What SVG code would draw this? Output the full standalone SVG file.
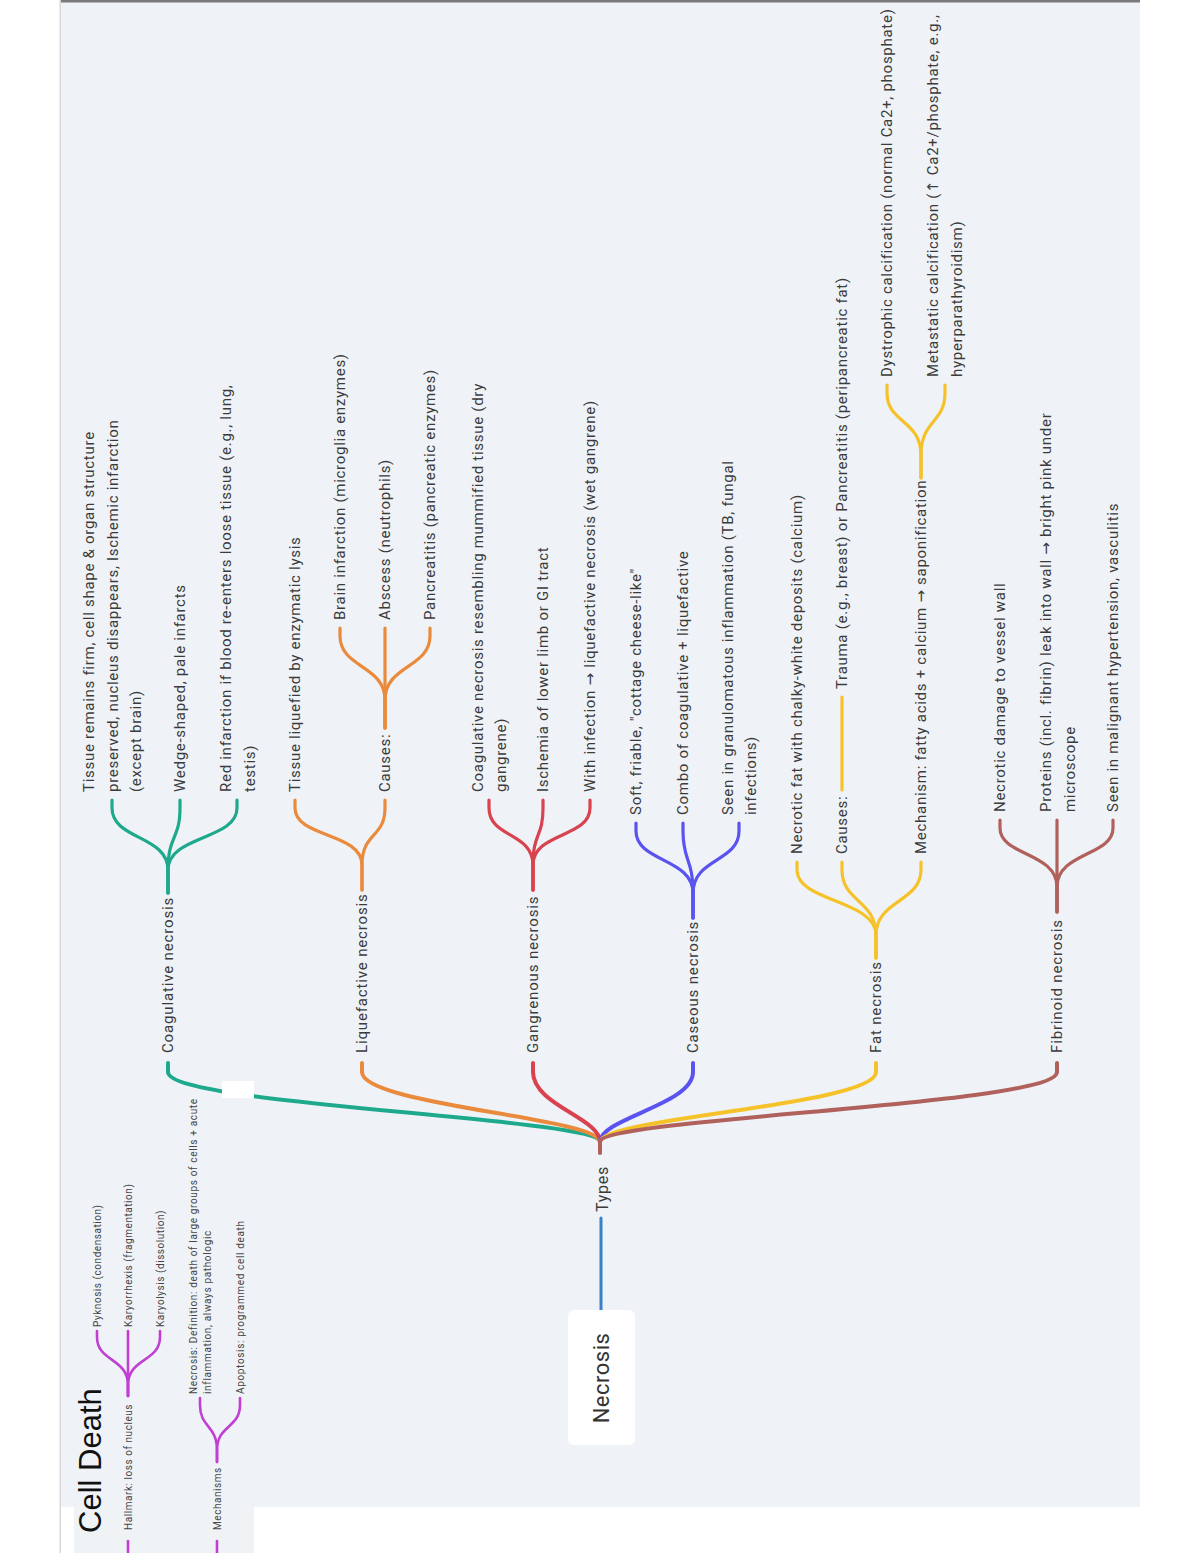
<svg xmlns="http://www.w3.org/2000/svg" width="1200" height="1553" viewBox="0 0 1200 1553">
<style>
.t{font-family:Roboto,"Noto Sans","DejaVu Sans",sans-serif;font-size:15px;fill:#3b3b3b;dominant-baseline:central;letter-spacing:0.72px}
.type{letter-spacing:0.85px}
.s{font-size:10px;fill:#444;letter-spacing:0.55px}
.c{fill:none;stroke-linecap:round;stroke-linejoin:round}
.teal{stroke:#1fa98c}.orange{stroke:#ea8a3c}.red{stroke:#d8434f}.violet{stroke:#5b53f0}.yellow{stroke:#f6c22a}.brown{stroke:#b0615c}.purple{stroke:#c13fd3}
.w4{stroke-width:4}.w3{stroke-width:3.2}.w2{stroke-width:2.6}
</style>
<rect x="0" y="0" width="1200" height="1553" fill="#ffffff"/>
<rect x="60" y="0" width="1080" height="1507" fill="#eff3f7"/>
<rect x="74" y="1507" width="180" height="46" fill="#f0f3f6"/>
<rect x="60" y="0" width="1080" height="2.5" fill="#7a7a7a"/>
<rect x="59.5" y="0" width="1.5" height="1553" fill="#d6d8da"/>

<g id="connectors">
  <path class="c" d="M601,1218 L601,1310" stroke="#3a80c8" stroke-width="3"/>
  <path class="c teal w4" d="M600,1142 C600,1118 168,1105 168,1072 L168,1063"/>
  <path class="c orange w4" d="M600,1142 C600,1118 362,1105 362,1072 L362,1063"/>
  <path class="c red w4" d="M600,1142 C600,1118 533,1105 533,1072 L533,1063"/>
  <path class="c violet w4" d="M600,1142 C600,1118 693,1105 693,1072 L693,1063"/>
  <path class="c yellow w4" d="M600,1142 C600,1118 876,1105 876,1072 L876,1063"/>
  <path class="c brown w4" d="M600,1142 C600,1118 1057,1105 1057,1072 L1057,1063"/>
  <path class="c brown w4" d="M600,1140 L600,1153"/>
  <rect x="222" y="1081" width="32" height="17" fill="#ffffff"/>

  <path class="c teal w3" d="M168,893 L168,870 C168,835 112,840 112,808 L112,800"/>
  <path class="c teal w3" d="M168,893 L168,870 C168,835 180,840 180,808 L180,800"/>
  <path class="c teal w3" d="M168,893 L168,870 C168,835 237,840 237,808 L237,800"/>
  <path class="c orange w3" d="M362,890 L362,865 C362,832 295,838 295,808 L295,800"/>
  <path class="c orange w3" d="M362,890 L362,865 C362,832 385,838 385,808 L385,800"/>
  <path class="c orange w3" d="M385,728 L385,700 C385,665 340,668 340,636 L340,628"/>
  <path class="c orange w3" d="M385,728 L385,628"/>
  <path class="c orange w3" d="M385,728 L385,700 C385,665 430,668 430,636 L430,628"/>
  <path class="c red w3" d="M533,890 L533,865 C533,832 489,838 489,808 L489,800"/>
  <path class="c red w3" d="M533,890 L533,865 C533,832 543,838 543,808 L543,800"/>
  <path class="c red w3" d="M533,890 L533,865 C533,832 590,838 590,808 L590,800"/>
  <path class="c violet w3" d="M693,918 L693,893 C693,858 636,862 636,831 L636,823"/>
  <path class="c violet w3" d="M693,918 L693,893 C693,858 683,862 683,831 L683,823"/>
  <path class="c violet w3" d="M693,918 L693,893 C693,858 739,862 739,831 L739,823"/>
  <path class="c yellow w3" d="M876,958 L876,935 C876,900 797,902 797,870 L797,862"/>
  <path class="c yellow w3" d="M876,958 L876,935 C876,900 842,902 842,870 L842,862"/>
  <path class="c yellow w3" d="M876,958 L876,935 C876,900 921,902 921,870 L921,862"/>
  <path class="c yellow w3" d="M842,790 L842,697"/>
  <path class="c yellow w3" d="M921,478 L921,455 C921,420 887,423 887,393 L887,385"/>
  <path class="c yellow w3" d="M921,478 L921,455 C921,420 945,423 945,393 L945,385"/>
  <path class="c brown w3" d="M1057,912 L1057,887 C1057,852 1000,856 1000,828 L1000,820"/>
  <path class="c brown w3" d="M1057,912 L1057,820"/>
  <path class="c brown w3" d="M1057,912 L1057,887 C1057,852 1113,856 1113,828 L1113,820"/>
  <path class="c purple w2" d="M128,1541 L128,1553"/>
  <path class="c purple w2" d="M217,1541 L217,1553"/>
  <path class="c purple w2" d="M128,1396 L128,1385 C128,1358 97,1362 97,1337 L97,1331"/>
  <path class="c purple w2" d="M128,1396 L128,1331"/>
  <path class="c purple w2" d="M128,1396 L128,1385 C128,1358 160,1362 160,1337 L160,1331"/>
  <path class="c purple w2" d="M217,1462 L217,1450 C217,1425 200,1428 200,1405 L200,1398"/>
  <path class="c purple w2" d="M217,1462 L217,1450 C217,1425 240,1428 240,1405 L240,1398"/>
</g>

<g id="n-root">
  <rect x="568" y="1310" width="67" height="135" rx="6" fill="#ffffff"/>
  <text class="t" transform="translate(601,1378) rotate(-90)" text-anchor="middle" style="font-size:22px;fill:#333;letter-spacing:0.5px">Necrosis</text>
</g>
<g id="n-types"><text class="t" transform="translate(602,1212) rotate(-90)" style="font-size:16px">Types</text></g>

<g id="n-coagulative"><text class="t type" transform="translate(168,1053) rotate(-90)">Coagulative necrosis</text></g>
<g id="n-coag-1"><text class="t" transform="translate(89,792) rotate(-90)"><tspan x="0" y="0">Tissue remains firm, cell shape &amp; organ structure</tspan><tspan x="0" y="23.5">preserved, nucleus disappears, Ischemic infarction</tspan><tspan x="0" y="47">(except brain)</tspan></text></g>
<g id="n-coag-2"><text class="t" transform="translate(180,792) rotate(-90)">Wedge-shaped, pale infarcts</text></g>
<g id="n-coag-3"><text class="t" transform="translate(226,792) rotate(-90)"><tspan x="0" y="0">Red infarction if blood re-enters loose tissue (e.g., lung,</tspan><tspan x="0" y="23.5">testis)</tspan></text></g>

<g id="n-liquefactive"><text class="t type" transform="translate(362,1053) rotate(-90)">Liquefactive necrosis</text></g>
<g id="n-liq-1"><text class="t" transform="translate(295,792) rotate(-90)">Tissue liquefied by enzymatic lysis</text></g>
<g id="n-liq-causes"><text class="t" transform="translate(385,792) rotate(-90)">Causes:</text></g>
<g id="n-liq-c1"><text class="t" transform="translate(340,620) rotate(-90)">Brain infarction (microglia enzymes)</text></g>
<g id="n-liq-c2"><text class="t" transform="translate(385,620) rotate(-90)">Abscess (neutrophils)</text></g>
<g id="n-liq-c3"><text class="t" transform="translate(430,620) rotate(-90)">Pancreatitis (pancreatic enzymes)</text></g>

<g id="n-gangrenous"><text class="t type" transform="translate(533,1053) rotate(-90)">Gangrenous necrosis</text></g>
<g id="n-gan-1"><text class="t" transform="translate(478,792) rotate(-90)"><tspan x="0" y="0">Coagulative necrosis resembling mummified tissue (dry</tspan><tspan x="0" y="22.5">gangrene)</tspan></text></g>
<g id="n-gan-2"><text class="t" transform="translate(543,792) rotate(-90)">Ischemia of lower limb or GI tract</text></g>
<g id="n-gan-3"><text class="t" transform="translate(590,792) rotate(-90)">With infection → liquefactive necrosis (wet gangrene)</text></g>

<g id="n-caseous"><text class="t type" transform="translate(693,1053) rotate(-90)">Caseous necrosis</text></g>
<g id="n-cas-1"><text class="t" transform="translate(636,815) rotate(-90)">Soft, friable, "cottage cheese-like"</text></g>
<g id="n-cas-2"><text class="t" transform="translate(683,815) rotate(-90)">Combo of coagulative + liquefactive</text></g>
<g id="n-cas-3"><text class="t" transform="translate(728,815) rotate(-90)"><tspan x="0" y="0">Seen in granulomatous inflammation (TB, fungal</tspan><tspan x="0" y="23">infections)</tspan></text></g>

<g id="n-fat"><text class="t type" transform="translate(876,1053) rotate(-90)">Fat necrosis</text></g>
<g id="n-fat-1"><text class="t" transform="translate(797,854) rotate(-90)">Necrotic fat with chalky-white deposits (calcium)</text></g>
<g id="n-fat-causes"><text class="t" transform="translate(842,854) rotate(-90)">Causes:</text></g>
<g id="n-fat-trauma"><text class="t" transform="translate(842,689) rotate(-90)">Trauma (e.g., breast) or Pancreatitis (peripancreatic fat)</text></g>
<g id="n-fat-mech"><text class="t" transform="translate(921,854) rotate(-90)">Mechanism: fatty acids + calcium → saponification</text></g>
<g id="n-fat-dys"><text class="t" transform="translate(887,377) rotate(-90)">Dystrophic calcification (normal Ca2+, phosphate)</text></g>
<g id="n-fat-met"><text class="t" transform="translate(933,377) rotate(-90)"><tspan x="0" y="0">Metastatic calcification (↑ Ca2+/phosphate, e.g.,</tspan><tspan x="0" y="24">hyperparathyroidism)</tspan></text></g>

<g id="n-fibrinoid"><text class="t type" transform="translate(1057,1053) rotate(-90)">Fibrinoid necrosis</text></g>
<g id="n-fib-1"><text class="t" transform="translate(1000,812) rotate(-90)">Necrotic damage to vessel wall</text></g>
<g id="n-fib-2"><text class="t" transform="translate(1046,812) rotate(-90)"><tspan x="0" y="0">Proteins (incl. fibrin) leak into wall → bright pink under</tspan><tspan x="0" y="24">microscope</tspan></text></g>
<g id="n-fib-3"><text class="t" transform="translate(1113,812) rotate(-90)">Seen in malignant hypertension, vasculitis</text></g>

<g id="n-celldeath"><text transform="translate(90,1533) rotate(-90)" style="font-family:'Liberation Sans',Arial,sans-serif;font-size:31px;fill:#111;dominant-baseline:central">Cell Death</text></g>
<g id="n-hallmark"><text class="t s" transform="translate(128,1530) rotate(-90)">Hallmark: loss of nucleus</text></g>
<g id="n-pyknosis"><text class="t s" transform="translate(97,1327) rotate(-90)">Pyknosis (condensation)</text></g>
<g id="n-karyorrhexis"><text class="t s" transform="translate(128,1327) rotate(-90)">Karyorrhexis (fragmentation)</text></g>
<g id="n-karyolysis"><text class="t s" transform="translate(160,1327) rotate(-90)">Karyolysis (dissolution)</text></g>
<g id="n-mechanisms"><text class="t s" transform="translate(217,1530) rotate(-90)">Mechanisms</text></g>
<g id="n-mech-necrosis"><text class="t s" transform="translate(193,1394) rotate(-90)" style="letter-spacing:0.65px"><tspan x="0" y="0">Necrosis: Definition: death of large groups of cells + acute</tspan><tspan x="0" y="14">inflammation, always pathologic</tspan></text></g>
<g id="n-mech-apoptosis"><text class="t s" transform="translate(240,1394) rotate(-90)" style="letter-spacing:0.65px">Apoptosis: programmed cell death</text></g>
</svg>
